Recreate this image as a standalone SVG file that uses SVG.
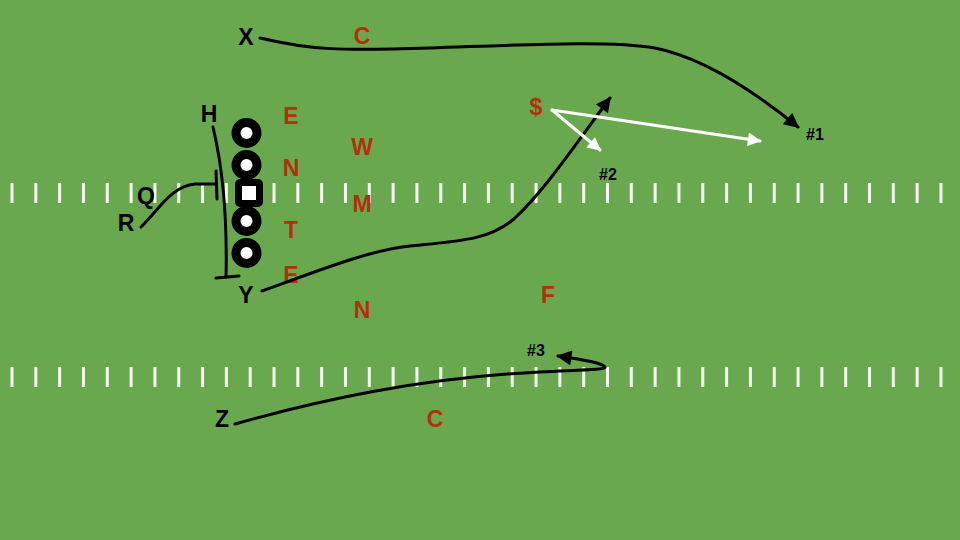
<svg xmlns="http://www.w3.org/2000/svg" width="960" height="540" viewBox="0 0 960 540">
<defs>
<style>
.off{font-family:"Liberation Sans",Arial,sans-serif;font-weight:bold;font-size:23px;fill:#000;text-anchor:middle}
.def{font-family:"Liberation Sans",Arial,sans-serif;font-weight:bold;font-size:23px;fill:#b3300c;text-anchor:middle}
.num{font-family:"Liberation Sans",Arial,sans-serif;font-weight:bold;font-size:16px;fill:#000;text-anchor:middle}
.route{fill:none;stroke:#000;stroke-width:3;stroke-linecap:round}
.wroute{fill:none;stroke:#fff;stroke-width:3;stroke-linecap:round}
.hash{stroke:#f6fbef;stroke-width:20;stroke-dasharray:3 20.82}
.ol{fill:#fff;stroke:#000;stroke-width:9}
</style>
<marker id="ab" viewBox="0 0 10 10" refX="9" refY="5" markerWidth="7" markerHeight="5" markerUnits="strokeWidth" orient="auto">
<path d="M0,0 L10,5 L0,10 z" fill="#000"/>
</marker>
<marker id="aw" viewBox="0 0 10 10" refX="9" refY="5" markerWidth="7" markerHeight="4.5" markerUnits="strokeWidth" orient="auto">
<path d="M0,0 L10,5 L0,10 z" fill="#fff"/>
</marker>
</defs>
<rect width="960" height="540" fill="#6aa84f"/>
<g id="hashes">
<line class="hash" x1="10.5" y1="193" x2="944" y2="193"/>
<line class="hash" x1="10.5" y1="377" x2="944" y2="377"/>
</g>
<g id="line">
<circle class="ol" cx="246.5" cy="133" r="10.5"/>
<circle class="ol" cx="246.5" cy="165" r="10.5"/>
<rect x="235" y="179" width="28" height="28" rx="5" fill="#000"/>
<rect x="242" y="186" width="14" height="14" fill="#fff"/>
<circle class="ol" cx="246.5" cy="221" r="10.5"/>
<circle class="ol" cx="246.5" cy="253" r="10.5"/>
</g>
<g id="offense">
<g id="nX"><text class="off" x="246" y="45">X</text></g>
<g id="nH"><text class="off" x="209" y="122">H</text></g>
<g id="nQ"><text class="off" x="146" y="204">Q</text></g>
<g id="nR"><text class="off" x="126" y="231">R</text></g>
<g id="nY"><text class="off" x="246" y="303">Y</text></g>
<g id="nZ"><text class="off" x="222" y="427">Z</text></g>
</g>
<g id="defense">
<g id="dC1"><text class="def" x="362" y="44">C</text></g>
<g id="dE1"><text class="def" x="291" y="124">E</text></g>
<g id="dW"><text class="def" x="362" y="155">W</text></g>
<g id="dN1"><text class="def" x="291" y="176">N</text></g>
<g id="dM"><text class="def" x="362" y="212">M</text></g>
<g id="dT"><text class="def" x="291" y="238">T</text></g>
<g id="dE2"><text class="def" x="291" y="283">E</text></g>
<g id="dN2"><text class="def" x="362" y="318">N</text></g>
<g id="dF"><text class="def" x="548" y="303">F</text></g>
<g id="dS"><text class="def" x="536" y="115">$</text></g>
<g id="dC2"><text class="def" x="435" y="427">C</text></g>
</g>
<g id="targets">
<g id="t1"><text class="num" x="815" y="140">#1</text></g>
<g id="t2"><text class="num" x="608" y="180">#2</text></g>
<g id="t3"><text class="num" x="536" y="356">#3</text></g>
</g>
<g id="connectors">
<path class="route" d="M260,38 C310,50 340,51 430,48 C520,45 610,40 655,48 C705,58 755,92 798,127" marker-end="url(#ab)"/>
<path class="route" d="M262,291 C320,270 370,250 410,246 C460,241 490,240 515,218 C545,190 575,145 610,98" marker-end="url(#ab)"/>
<path class="route" d="M235,424 C320,400 420,378 540,372 C580,370 606,370 605,367 C603,363 585,360 558,356" marker-end="url(#ab)"/>
<path class="route" d="M213,127 Q228,190 226,277"/>
<path class="route" d="M216,278 L239,276"/>
<path class="route" d="M141,227 C160,208 172,186 195,184 L215,184"/>
<path class="route" d="M216,171 L217,199"/>
<path class="wroute" d="M552,110 L600,150" marker-end="url(#aw)"/>
<path class="wroute" d="M552,110 L760,141" marker-end="url(#aw)"/>
</g>
</svg>
